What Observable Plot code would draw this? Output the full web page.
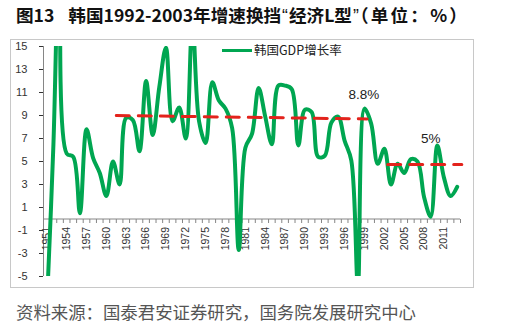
<!DOCTYPE html>
<html><head><meta charset="utf-8">
<script src="https://cdn.jsdelivr.net/npm/d3@7"></script>
<script src="https://cdn.jsdelivr.net/npm/@observablehq/plot@0.6"></script>
<style>
body{margin:0;background:#fff;width:510px;height:331px;position:relative;overflow:hidden;font-family:"Noto Sans CJK SC",sans-serif}
#title{position:absolute;left:16px;top:4px;font-size:17.6px;font-weight:bold;color:#111;white-space:nowrap;line-height:22px}
#title .q{font-family:"Liberation Sans",Arial,sans-serif;font-weight:normal;margin:0 1px}
#title .gap{display:inline-block;width:14px}
#title .unit{letter-spacing:2.2px}
#chart{position:absolute;left:10px;top:39px}
#chart svg{outline:1px solid #c8c8c8;outline-offset:-1px;background:#fff}
#legend{position:absolute;left:222px;top:42px;height:16px;line-height:16px;font-size:12.5px;color:#222;white-space:nowrap;display:flex;align-items:center}
#legend .sw{display:inline-block;width:30px;height:3px;background:#00a651;margin-right:2px}
#caption{position:absolute;left:16px;top:301px;font-size:17.4px;line-height:22px;color:#555;white-space:nowrap}
</style></head>
<body>
<div id="title">图13<span class="gap"></span>韩国1992-2003年增速换挡<span class="q">“</span>经济L型<span class="q">”</span><span class="unit">（单位：%）</span></div>
<div id="chart"></div>
<div id="legend"><span class="sw"></span><span>韩国GDP增长率</span></div>
<div id="caption">资料来源：国泰君安证券研究，国务院发展研究中心</div>
<script>
const years = [1951,1952,1953,1954,1955,1956,1957,1958,1959,1960,1961,1962,1963,1964,1965,1966,1967,1968,1969,1970,1971,1972,1973,1974,1975,1976,1977,1978,1979,1980,1981,1982,1983,1984,1985,1986,1987,1988,1989,1990,1991,1992,1993,1994,1995,1996,1997,1998,1999,2000,2001,2002,2003,2004,2005,2006,2007,2008,2009,2010,2011,2012,2013];
const growth = [-7.7,6.5,26,5.7,5.4,0.5,7.8,5.3,4.0,2.0,5.0,3.0,8.8,8.6,5.9,12.0,7.3,11.5,14.9,8.5,9.7,7.0,17.3,8.5,6.6,11.9,10.3,9.6,7.9,-2.7,6.2,7.4,11.4,8.9,6.5,11.6,11.6,11.3,6.4,9.5,9.3,5.4,5.5,8.4,8.9,6.8,5.1,-5.8,9.6,8.3,4.8,6.1,3.0,4.8,4.0,5.2,5.0,1.9,0.2,6.4,3.6,2.0,2.8];
const trendHighX = [1961.5, 1999.4];
const trendHighY = [9.0, 8.7];
const trendLowX = [2002.5, 2013.7];
const trendLowY = [4.73, 4.73];
const noteLabels = ["8.8%", "5%"];
const noteX = [1998.9, 2009.0];
const noteY = [10.8, 7.0];
const yTicks = [-5,-3,-1,1,3,5,7,9,11,13,15];
const xTickLabels = [1951,1954,1957,1960,1963,1966,1969,1972,1975,1978,1981,1984,1987,1990,1993,1996,1999,2002,2005,2008,2011];

const xDomain = [years[0] - 0.5, years[years.length - 1] + 0.5];
const series = years.map((y, i) => ({year: y, value: growth[i]}));
const high = trendHighX.map((x, i) => ({x, y: trendHighY[i]}));
const low = trendLowX.map((x, i) => ({x, y: trendLowY[i]}));
const notes = noteLabels.map((t, i) => ({t, x: noteX[i], y: noteY[i]}));
const tickPos = years.map(y => y - 0.5).concat([xDomain[1]]);
const axisGray = "#868686";
const tickSym = {draw(ctx) { ctx.moveTo(0, 0); ctx.lineTo(0, 4); }};

const chart = Plot.plot({
  width: 464, height: 249,
  marginLeft: 33, marginRight: 14, marginTop: 7, marginBottom: 12,
  style: {fontFamily: "'Liberation Sans', Arial, sans-serif", fontSize: "11px", color: "#333", background: "#fff", overflow: "visible"},
  x: {domain: xDomain, axis: null},
  y: {domain: [-5, 15], ticks: yTicks, tickSize: 4, tickPadding: 12, tickFormat: d => String(d), label: null},
  marks: [
    Plot.ruleX([xDomain[0]], {stroke: axisGray}),
    Plot.ruleY([0], {stroke: axisGray}),
    Plot.dot(tickPos, {x: d => d, y: () => 0, symbol: tickSym, stroke: axisGray, fill: "none", strokeWidth: 1}),
    Plot.text(xTickLabels, {x: d => d, y: () => 0, text: d => String(d), rotate: -90, textAnchor: "end", dy: 8, fontSize: 10.5, fill: "#333"}),
    Plot.line(series, {x: "year", y: "value", stroke: "#00a651", strokeWidth: 4, curve: "catmull-rom", clip: true}),
    Plot.line(high, {x: "x", y: "y", stroke: "#e3231c", strokeWidth: 3, strokeDasharray: "13,9"}),
    Plot.line(low, {x: "x", y: "y", stroke: "#e3231c", strokeWidth: 3, strokeDasharray: "13,9"}),
    Plot.text(notes, {x: "x", y: "y", text: "t", fontSize: 13.5, fill: "#222"})
  ]
});
document.getElementById("chart").appendChild(chart);
</script>
</body></html>
